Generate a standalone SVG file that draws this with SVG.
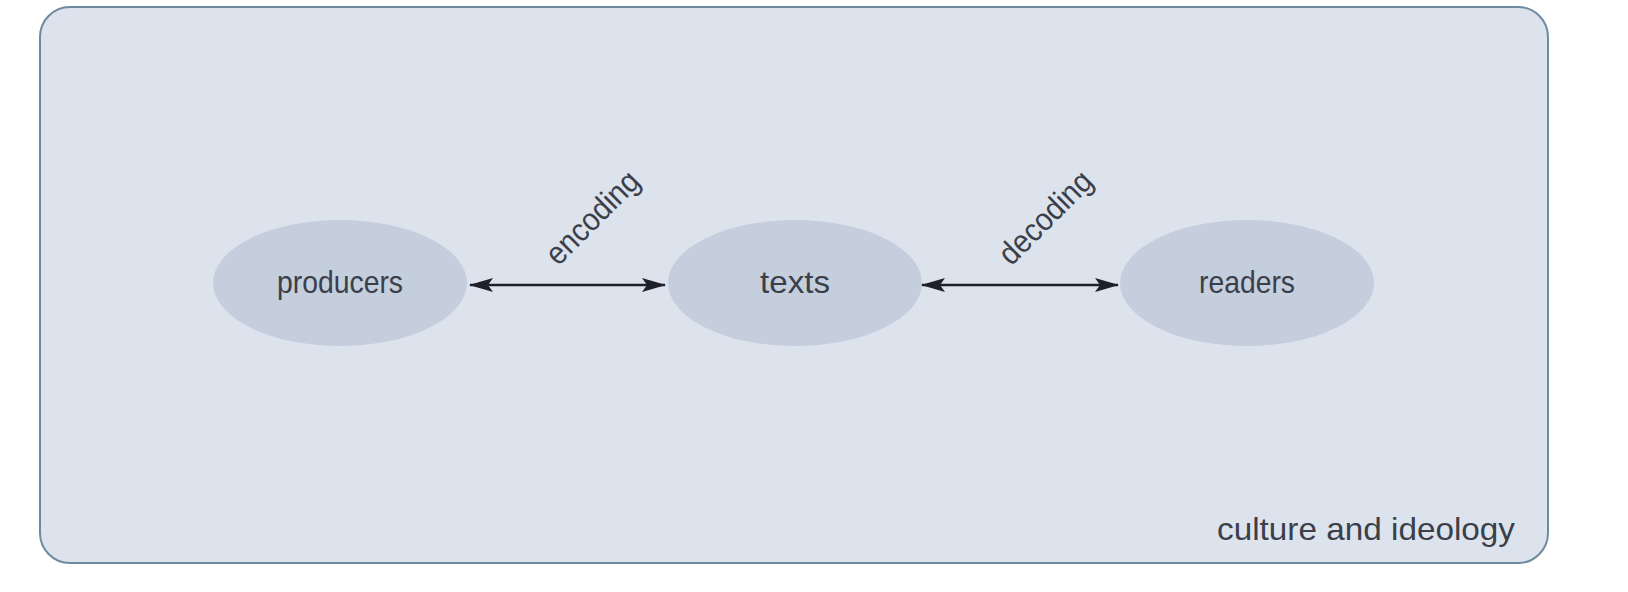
<svg xmlns="http://www.w3.org/2000/svg" width="1628" height="592" viewBox="0 0 1628 592">
<style>
text{font-family:"Liberation Sans Narrow","Liberation Sans",sans-serif;fill:#3a3f4a;font-size:32px}
.n{fill:#c4cedd}
.c{stroke:#1e2228;stroke-width:2.5;fill:none}
</style>
<defs><marker id="a" viewBox="0 0 24 14" refX="23" refY="7" markerWidth="24" markerHeight="14" markerUnits="userSpaceOnUse" orient="auto-start-reverse"><path d="M0,0 L24,7 L0,14 L5,7Z" fill="#1e2228"/></marker></defs>
<rect width="1628" height="592" fill="#fff"/>
<g id="frame"><rect x="40" y="7" width="1508" height="556" rx="30" fill="#dde3ed" stroke="#6d8aa0" stroke-width="2"/>
<text x="1515" y="540" text-anchor="end" textLength="298" lengthAdjust="spacingAndGlyphs">culture and ideology</text></g>
<g id="producers"><ellipse class="n" cx="340" cy="283" rx="127" ry="63"/><text x="340" y="293" text-anchor="middle" textLength="126" lengthAdjust="spacingAndGlyphs">producers</text></g>
<g id="texts"><ellipse class="n" cx="795" cy="283" rx="127" ry="63"/><text x="795" y="293" text-anchor="middle" textLength="70" lengthAdjust="spacingAndGlyphs">texts</text></g>
<g id="readers"><ellipse class="n" cx="1247" cy="283" rx="127" ry="63"/><text x="1247" y="293" text-anchor="middle" textLength="96" lengthAdjust="spacingAndGlyphs">readers</text></g>
<g id="connectors">
<line class="c" x1="470" y1="285" x2="665" y2="285" marker-start="url(#a)" marker-end="url(#a)"/>
<line class="c" x1="922" y1="285" x2="1118" y2="285" marker-start="url(#a)" marker-end="url(#a)"/>
<text transform="translate(600,225) rotate(-45)" text-anchor="middle" textLength="118" lengthAdjust="spacingAndGlyphs">encoding</text>
<text transform="translate(1053,225) rotate(-45)" text-anchor="middle" textLength="118" lengthAdjust="spacingAndGlyphs">decoding</text>
</g>
</svg>
